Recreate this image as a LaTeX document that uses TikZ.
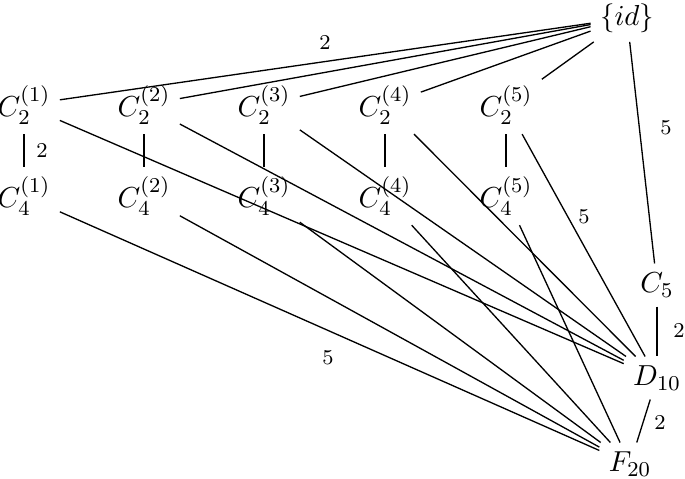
\documentclass[tikz,border=0pt]{standalone}
\usepackage{amsmath, amssymb}
\begin{document}
\begin{tikzpicture}[x=0.0133cm,y=-0.0133cm,line width=0.5pt,
  grp/.style={font=\fontsize{11}{13}\selectfont},
  lbl/.style={font=\footnotesize}]
\useasboundingbox (0,0) rectangle (685,478);
% subgroups
\node[grp] (id) at (627,18) {$\{id\}$};
\foreach \i/\x in {1/24,2/144,3/264,4/385,5/506} {
  \node[grp] (a\i) at (\x,105) {$C_2^{(\i)}$};
  \node[grp] (b\i) at (\x,196) {$C_4^{(\i)}$};
}
\node[grp] (c5)  at (657,285) {$C_5$};
\node[grp] (d10) at (657,378) {$D_{10}$};
\node[grp] (f20) at (630,464) {$F_{20}$};
% inclusions
\foreach \i in {1,...,5} {
  \draw (id) -- (a\i);
  \draw (a\i) -- (b\i);
  \draw (a\i) -- (d10);
  \draw (b\i) -- (f20);
}
\draw (id) -- (c5);
\draw (c5) -- (d10);
\draw (d10) -- (f20);
% indices
\node[lbl] (l1) at (325,42)  {2};
\node[lbl] (l2) at (42,150)  {2};
\node[lbl] (l3) at (666,128) {5};
\node[lbl] (l4) at (584,217) {5};
\node[lbl] (l5) at (328,358) {5};
\node[lbl] (l6) at (679,330) {2};
\node[lbl] (l7) at (660,422) {2};
\end{tikzpicture}
\end{document}
